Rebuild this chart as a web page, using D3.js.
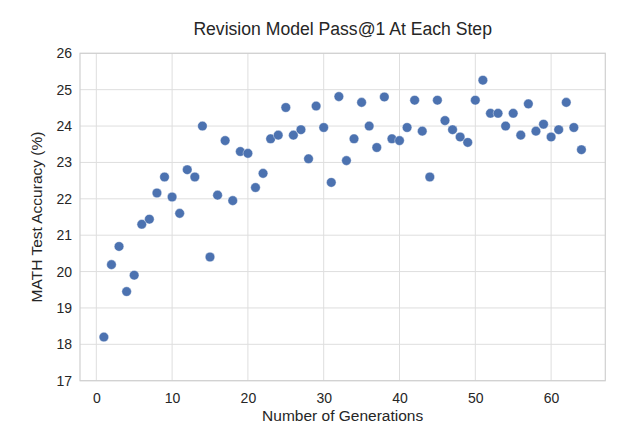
<!DOCTYPE html>
<html>
<head>
<meta charset="UTF-8" />
<script src="https://d3js.org/d3.v7.min.js"></script>
<style>
  body { margin: 0; background: #fff; }
  svg { font-family: 'Liberation Sans', Arial, sans-serif; display: block; }
</style>
</head>
<body>
<svg width="640" height="437"></svg>
<script>
// generation steps 1..64 and the accuracy
const steps = d3.range(1, 65);
const accuracy = [
  18.20, 20.19, 20.69, 19.45, 19.90, 21.30, 21.44, 22.16, 22.60, 22.05,
  21.60, 22.80, 22.60, 24.00, 20.40, 22.10, 23.60, 21.95, 23.30, 23.25,
  22.31, 22.70, 23.65, 23.75, 24.51, 23.75, 23.90, 23.10, 24.55, 23.96,
  22.45, 24.81, 23.05, 23.65, 24.65, 24.00, 23.41, 24.80, 23.65, 23.60,
  23.96, 24.71, 23.86, 22.60, 24.71, 24.15, 23.90, 23.70, 23.55, 24.71,
  25.26, 24.35, 24.35, 24.00, 24.35, 23.75, 24.61, 23.86, 24.05, 23.70,
  23.90, 24.65, 23.96, 23.35
];
const xTicks = [0, 10, 20, 30, 40, 50, 60];
const yTicks = [17, 18, 19, 20, 21, 22, 23, 24, 25, 26];

const svg = d3.select("svg");
const plotL = 80, plotR = 605.3, plotT = 53.3, plotB = 380.7;

const x = d3.scaleLinear().domain([-2.15, 67.15]).range([plotL, plotR]);
const y = d3.scaleLinear().domain([17, 26]).range([plotB, plotT]);

// grid
svg.append("g").selectAll("line").data(xTicks).enter().append("line")
  .attr("x1", d => x(d)).attr("x2", d => x(d))
  .attr("y1", plotT).attr("y2", plotB)
  .attr("stroke", "#dedede").attr("stroke-width", 1);
svg.append("g").selectAll("line").data(yTicks).enter().append("line")
  .attr("y1", d => y(d)).attr("y2", d => y(d))
  .attr("x1", plotL).attr("x2", plotR)
  .attr("stroke", "#dedede").attr("stroke-width", 1);

// frame
svg.append("rect")
  .attr("x", plotL).attr("y", plotT)
  .attr("width", plotR - plotL).attr("height", plotB - plotT)
  .attr("fill", "none").attr("stroke", "#d0d0d0").attr("stroke-width", 1.2);

// axes (labels only)
const xAxis = svg.append("g").attr("transform", `translate(0,${plotB})`)
  .call(d3.axisBottom(x).tickValues(xTicks).tickSize(0).tickPadding(12));
const yAxis = svg.append("g").attr("transform", `translate(${plotL},0)`)
  .call(d3.axisLeft(y).tickValues(yTicks).tickSize(0).tickPadding(8));
[xAxis, yAxis].forEach(a => {
  a.select(".domain").remove();
  a.selectAll("text").attr("font-size", 14).attr("fill", "#262626")
    .attr("font-family", "'Liberation Sans', Arial, sans-serif");
});

// points
svg.append("g").selectAll("circle").data(steps).enter().append("circle")
  .attr("cx", (d, i) => x(d))
  .attr("cy", (d, i) => y(accuracy[i]))
  .attr("r", 4.8)
  .attr("fill", "#4c72b0")
  .attr("stroke", "#fff").attr("stroke-width", 0.4);

// titles
svg.append("text").attr("x", (plotL + plotR) / 2).attr("y", 35)
  .attr("text-anchor", "middle").attr("font-size", 17.6).attr("fill", "#262626")
  .text("Revision Model Pass@1 At Each Step");
svg.append("text").attr("x", (plotL + plotR) / 2).attr("y", 421)
  .attr("text-anchor", "middle").attr("font-size", 15.5).attr("fill", "#262626")
  .text("Number of Generations");
svg.append("text")
  .attr("transform", `translate(42,${(plotT + plotB) / 2}) rotate(-90)`)
  .attr("text-anchor", "middle").attr("font-size", 15.5).attr("fill", "#262626")
  .text("MATH Test Accuracy (%)");
</script>
</body>
</html>
